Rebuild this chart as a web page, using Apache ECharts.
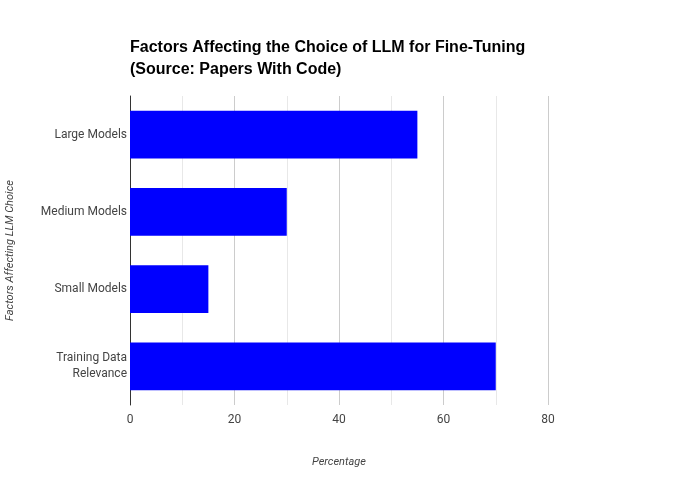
<!DOCTYPE html>
<html><head><meta charset="utf-8">
<script src="https://cdn.jsdelivr.net/npm/echarts@6/dist/echarts.min.js"></script>
<style>html,body{margin:0;padding:0;background:#fff}#c{width:680px;height:500px}</style>
</head><body><div id="c"></div>
<script>
const categories = ["Large Models", "Medium Models", "Small Models", "Training Data\nRelevance"];
const values = [55, 30, 15, 70];
const xTicks = [0, 20, 40, 60, 80];

const chart = echarts.init(document.getElementById('c'), null, {renderer: 'canvas'});
chart.setOption({
  backgroundColor: '#fff',
  animation: false,
  title: {
    text: 'Factors Affecting the Choice of LLM for Fine-Tuning\n(Source: Papers With Code)',
    left: 125, top: 32,
    textStyle: {fontFamily: 'Liberation Sans, Arial', fontSize: 16, fontWeight: 'bold', color: '#000', lineHeight: 22}
  },
  grid: {left: 130, right: 132, top: 96, bottom: 95, containLabel: false, outerBoundsMode: 'none'},
  xAxis: {
    type: 'value', min: xTicks[0], max: xTicks[xTicks.length - 1], interval: 20,
    name: 'Percentage', nameLocation: 'middle', nameGap: 52,
    nameTextStyle: {fontFamily: 'Roboto', fontStyle: 'italic', fontSize: 11, color: '#444'},
    axisLine: {show: false}, axisTick: {show: false},
    axisLabel: {fontFamily: 'Roboto', fontSize: 12, color: '#444', margin: 9},
    splitLine: {show: true, lineStyle: {color: '#ccc', width: 1}},
    minorTick: {show: false, splitNumber: 2},
    minorSplitLine: {show: true, lineStyle: {color: '#e8e8e8', width: 1}}
  },
  yAxis: {
    type: 'category', data: categories, inverse: true,
    name: 'Factors Affecting LLM Choice', nameLocation: 'middle', nameGap: 114, nameRotate: 90,
    nameTextStyle: {fontFamily: 'Roboto', fontStyle: 'italic', fontSize: 11, color: '#444'},
    axisLine: {show: true, lineStyle: {color: '#333', width: 1}},
    axisTick: {show: false},
    axisLabel: {fontFamily: 'Roboto', fontSize: 12, color: '#444', margin: 3, lineHeight: 16, align: 'right'}
  },
  series: [{
    type: 'bar', data: values, barCategoryGap: '38%',
    itemStyle: {color: '#0000ff'}
  }]
});
</script></body></html>
